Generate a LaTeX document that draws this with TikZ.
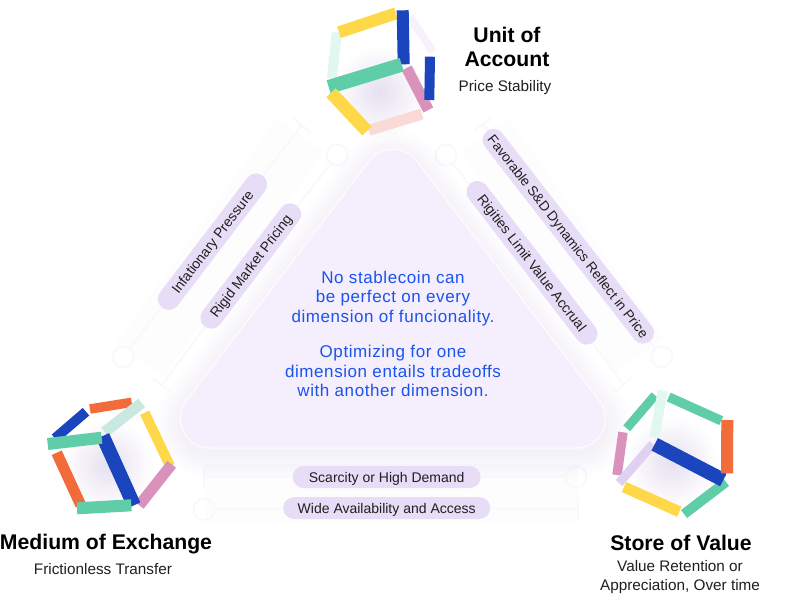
\documentclass[tikz,border=0pt]{standalone}
\usepackage{fontspec}
\setmainfont{Liberation Sans}
\newfontfamily\messagefont[LetterSpace=3.4]{Liberation Sans}
\usetikzlibrary{backgrounds}
\definecolor{slatblue}{HTML}{1B45BD}
\definecolor{slatgreen}{HTML}{5FCDA8}
\definecolor{slatyellow}{HTML}{FFD84A}
\definecolor{slatorange}{HTML}{F26B3A}
\definecolor{slatpink}{HTML}{D992BC}
\definecolor{slatblush}{HTML}{F9DAD6}
\definecolor{slatmint}{HTML}{E3F7F1}
\definecolor{slatsage}{HTML}{C9E8E0}
\definecolor{slatlilac}{HTML}{E0D0F1}
\definecolor{slatpale}{HTML}{F7F1FC}
\definecolor{pillfill}{HTML}{E8DDF7}
\definecolor{triafill}{HTML}{F5EEFC}
\definecolor{railcolor}{HTML}{FAF8FD}
\definecolor{bandcolor}{HTML}{FDFDFE}
\definecolor{halo}{HTML}{D5CBE6}
\definecolor{inktext}{HTML}{1A53EE}
\tikzset{
  pill/.style={fill=pillfill, minimum height=22pt, rounded corners=11pt, inner sep=0pt, text height=10pt, text depth=0pt, font=\fontsize{14}{14}\selectfont, text=black!88},
  ring/.style={circle, draw=railcolor, line width=2pt, minimum size=21pt, inner sep=0pt},
  rail/.style={draw=railcolor, line width=2pt},
  band/.style={draw=bandcolor, line width=58pt},
  slat/.style={line width=#1},
  heading/.style={font=\fontsize{21.2}{24}\selectfont\bfseries, align=center, text=black},
  subheading/.style={font=\fontsize{15.3}{19}\selectfont, align=center, text=black!88},
  message/.style={font=\fontsize{17}{19.6}\selectfont\messagefont, align=center, text=inktext}
}
\def\tripath{(369.1,161.3) .. controls (381,145.7) and (405,145.7) .. (416.9,161.3) -- (599,400.3) .. controls (614.1,420) and (600.5,448) .. (575.7,448) -- (210.3,448) .. controls (185.5,448) and (171.7,420) .. (186.8,400.3) -- cycle}
\begin{document}
\begin{tikzpicture}[x=1pt,y=-1pt]
\useasboundingbox (0,0) rectangle (800,595);
% labels on the rails
\node [pill, minimum width=166pt, rotate=52.7] (pressure) at (212.5,241.7) {Infationary Pressure};
\node [pill, minimum width=152pt, rotate=52.7] (pricing) at (250.8,266) {Rigid Market Pricing};
\node [pill, minimum width=266pt, rotate=-52.2, font=\fontsize{13.7}{14}\selectfont] (dynamics) at (568.3,236.3) {Favorable S\&D Dynamics Reflect in Price};
\node [pill, minimum width=201pt, rotate=-52.4] (accrual) at (532,262.8) {Rigities Limit Value Accrual};
\node [pill, minimum width=188pt] (scarcity) at (386.7,477) {Scarcity or High Demand};
\node [pill, minimum width=207pt] (access) at (386.7,508) {Wide Availability and Access};
% rails, halos and triangle go underneath
\begin{pgfonlayer}{background}
\draw [band] (300,135) -- (140,360);
\draw [band] (485,135) -- (640,355);
\draw [band] (205,493) -- (578,493);
\shade [inner color=halo!60, outer color=white] (380,92) circle (46);
\shade [inner color=halo!60, outer color=white] (108,465) circle (46);
\shade [inner color=halo!60, outer color=white] (672,462) circle (46);
\node [ring] (r1) at (123.3,357) {};
\node [ring] (r2) at (337.3,155) {};
\node [ring] (r3) at (446,155) {};
\node [ring] (r4) at (661.7,356.7) {};
\node [ring] (r5) at (576,476.7) {};
\node [ring] (r6) at (204,509.3) {};
\coordinate (t1) at (301.7,125);
\coordinate (t2) at (161.7,385);
\coordinate (t3) at (483,124);
\coordinate (t4) at (623.5,384);
\coordinate (t5) at (204,476.7);
\coordinate (t6) at (578,509.3);
\draw [rail] (t1) -- (pressure) -- (r1);
\draw [rail] (r2) -- (pricing) -- (t2);
\draw [rail] (t3) -- (dynamics) -- (r4);
\draw [rail] (r3) -- (accrual) -- (t4);
\draw [rail] (t5) -- (scarcity) -- (r5);
\draw [rail] (r6) -- (access) -- (t6);
\draw [rail] (293,118) -- (310,132);
\draw [rail] (153,378) -- (170,392);
\draw [rail] (475,130) -- (491.7,118.3);
\draw [rail] (615,391.7) -- (632.7,376.7);
\draw [rail] (204,466) -- (204,487);
\draw [rail] (578,498) -- (578,520);
% triangle
\foreach \w in {6,12,...,48}
  \draw [line width=\w pt, draw=halo, opacity=.035, yshift=-5pt, line join=round] \tripath;
\fill [triafill] \tripath;
\draw [white, line width=.8pt] \tripath;
\end{pgfonlayer}
% unit of account icon
\draw [slat=8pt, color=slatpale] (410,17) -- (433,52);
\draw [slat=10pt, color=slatmint] (336.7,32.3) -- (332,78.3);
\draw [slat=12pt, color=slatyellow] (339,32.3) -- (396,13.3);
\draw [slat=12pt, color=slatblue] (402.7,10.3) -- (403.7,64.3);
\draw [slat=11pt, color=slatblush] (368.7,130.3) -- (422,114);
\draw [slat=11pt, color=slatpink] (406.7,68) -- (428.3,110);
\draw [slat=10pt, color=slatblue] (430,56.7) -- (429.3,100);
\draw [slat=14pt, color=slatgreen] (328.7,87) -- (401.7,64.7);
\draw [slat=13pt, color=slatyellow] (331,92.7) -- (367,131);
% medium of exchange icon
\draw [slat=10pt, color=slatblue] (55,438.3) -- (86,411.7);
\draw [slat=9.5pt, color=slatorange] (90,409) -- (131.7,402.3);
\draw [slat=11pt, color=slatsage] (104.7,432) -- (141.7,403);
\draw [slat=10pt, color=slatyellow] (144.7,412.7) -- (170,466);
\draw [slat=11pt, color=slatpink] (171.7,464.3) -- (139.3,505.3);
\draw [slat=14pt, color=slatblue] (102.7,436) -- (134,505.3);
\draw [slat=11pt, color=slatorange] (56.7,452.7) -- (80.7,505);
\draw [slat=12pt, color=slatgreen] (47.7,444) -- (101.7,437.7);
\draw [slat=12pt, color=slatgreen] (77,508.3) -- (131.3,505.3);
% store of value icon
\draw [slat=9pt, color=slatgreen] (626.7,428.3) -- (655,395.3);
\draw [slat=10pt, color=slatmint] (662.7,390.7) -- (654.3,437.3);
\draw [slat=9.5pt, color=slatgreen] (668.7,397) -- (721.3,420.7);
\draw [slat=9.5pt, color=slatpink] (623,432.3) -- (617,475);
\draw [slat=9pt, color=slatlilac] (652.7,444.3) -- (619,483);
\draw [slat=11pt, color=slatyellow] (624,487) -- (679.3,511.7);
\draw [slat=10pt, color=slatgreen] (726,482) -- (684,514);
\draw [slat=14pt, color=slatblue] (654.7,444.3) -- (723.3,480);
\draw [slat=12pt, color=slatorange] (727.3,420) -- (727,473.3);
% texts
\node [message] (perfect) at (393,298.5) {No stablecoin can\\be perfect on every\\dimension of funcionality.};
\node [message] (tradeoff) at (393,371) {Optimizing for one\\dimension entails tradeoffs\\with another dimension.};
\node [heading] (unit) at (507,47) {Unit of\\Account};
\node [subheading] (price) at (505,87.5) {Price Stability};
\node [heading] (medium) at (106,544.5) {Medium of Exchange};
\node [subheading] (transfer) at (103,569) {Frictionless Transfer};
\node [heading] (store) at (681,543) {Store of Value};
\node [subheading] (retention) at (680,577.5) {Value Retention or\\Appreciation, Over time};
\end{tikzpicture}
\end{document}
